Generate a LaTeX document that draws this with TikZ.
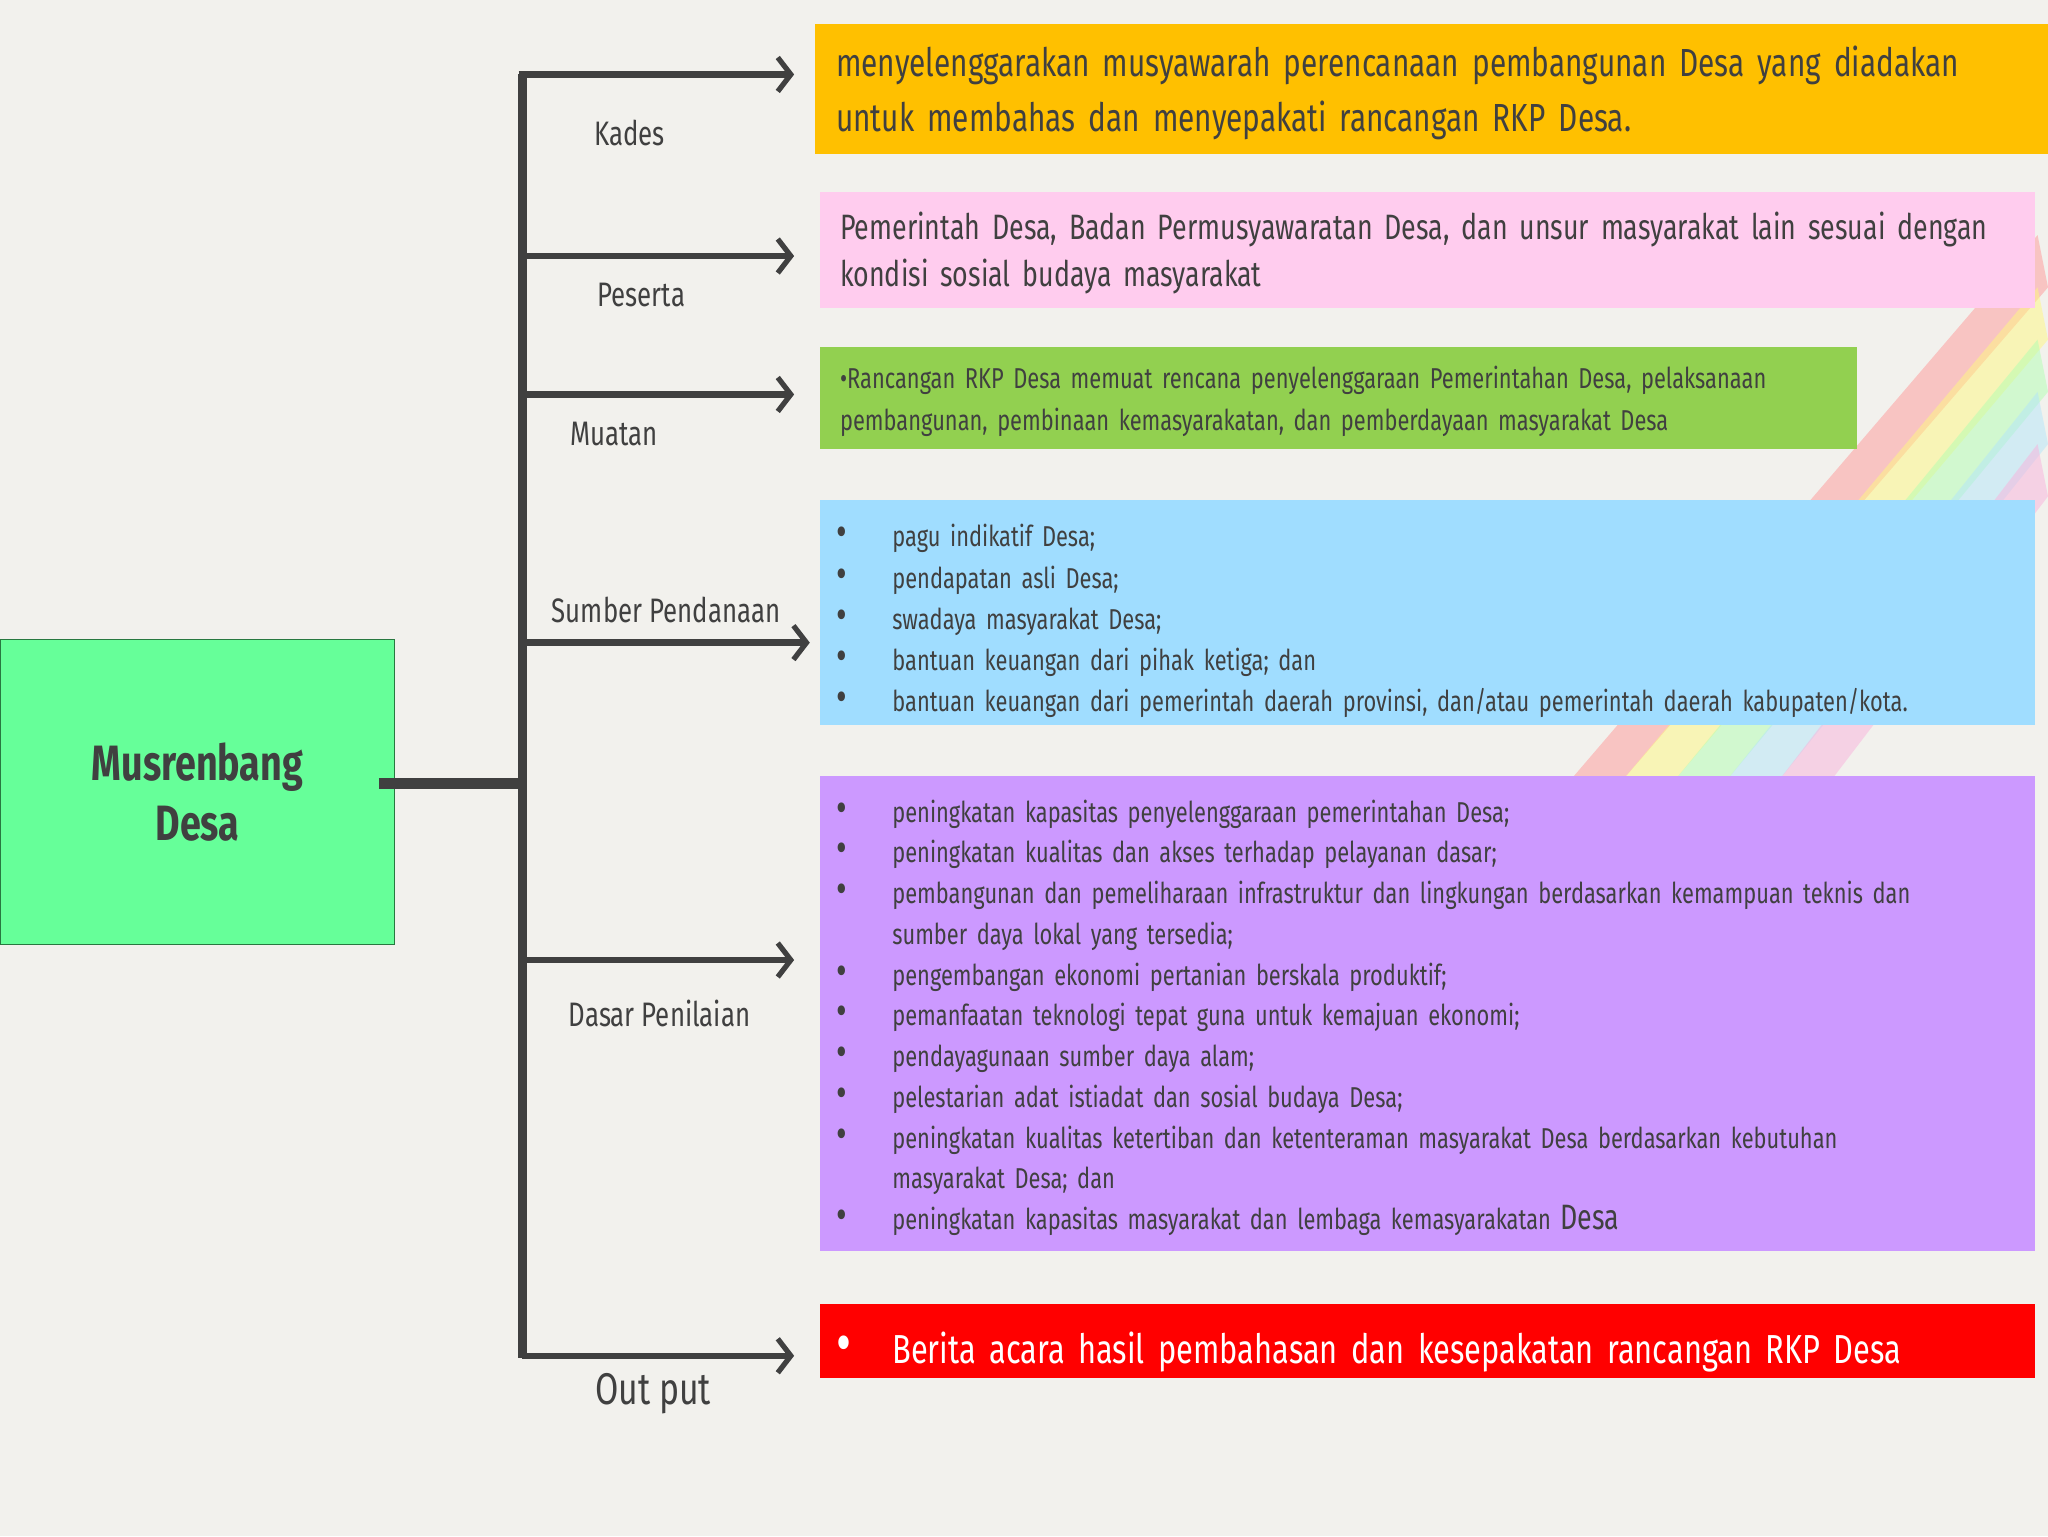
\documentclass[tikz,border=0pt]{standalone}
\usepackage{fontspec}
\setmainfont[FakeStretch=0.76]{Fira Sans}
\usetikzlibrary{arrows.meta}
\definecolor{dk}{HTML}{404040}
\definecolor{bg}{HTML}{F2F1ED}
\definecolor{corange}{HTML}{FFC000}
\definecolor{cpink}{HTML}{FFCCEE}
\definecolor{cgreen}{HTML}{92D050}
\definecolor{cblue}{HTML}{A0DDFF}
\definecolor{cpurple}{HTML}{CC99FF}
\definecolor{mgreen}{HTML}{66FF99}
\definecolor{mborder}{HTML}{287840}
\newcommand{\bi}[1]{\par\noindent\hangindent=55pt\hangafter=1\makebox[55pt][l]{\hspace{12pt}\scalebox{1.5}{\textbullet}}#1}
\tikzset{
 br/.style={draw=dk,line width=5pt,-{Straight Barb[length=10pt,width=26pt,line width=4pt]}},
 lab/.style={text=dk,font=\fontsize{26}{30}\selectfont},
 tb/.style={anchor=north west,align=left,inner sep=0pt,text=dk}
}
\begin{document}
\begin{tikzpicture}[x=1pt,y=-1pt]
\useasboundingbox (0,0) rectangle (1568,1176);
\fill[bg] (0,0) rectangle (1568,1176);
\foreach \c/\o in {red!40/0,yellow!50/40,green!30/80,cyan!30/120,magenta!30/160}{
 \fill[\c,opacity=0.5] (1200+\o,600) -- (1560,180+\o) -- (1568,220+\o) -- (1240+\o,600) -- cycle;}
% boxes
\fill[corange] (624,18) rectangle (1568,118);
\fill[cpink] (628,147) rectangle (1558,236);
\fill[cgreen] (628,266) rectangle (1422,344);
\fill[cblue] (628,383) rectangle (1558,555);
\fill[cpurple] (628,594) rectangle (1558,958);
\fill[red] (628,998) rectangle (1558,1055);
\node[draw=mborder,fill=mgreen,minimum width=302pt,minimum height=234pt,anchor=north west,align=center,text=dk,font=\bfseries\fontsize{38}{46}\selectfont] (m) at (0,489) {Musrenbang\\Desa};
% connectors
\coordinate (h0) at (290,600); \coordinate (h1) at (400,600);
\coordinate (t) at (400,57); \coordinate (b) at (400,1040);
\draw[dk,line width=8pt] (h0) -- (h1);
\draw[dk,line width=7pt] (t) -- (b);
\coordinate (e1) at (608,57); \coordinate (e2) at (608,196); \coordinate (e3) at (608,302);
\coordinate (e4) at (620,492); \coordinate (e5) at (608,735); \coordinate (e6) at (608,1038);
\draw[br] (397,57) -- (e1);
\draw[br] (400,196) -- (e2);
\draw[br] (400,302) -- (e3);
\draw[br] (400,492) -- (e4);
\draw[br] (400,735) -- (e5);
\draw[br] (400,1038) -- (e6);
\node[lab] (l1) at (482,102) {Kades};
\node[lab] (l2) at (491,226) {Peserta};
\node[lab] (l3) at (470,332) {Muatan};
\node[lab] (l4) at (510,467) {Sumber Pendanaan};
\node[lab] (l5) at (505,776) {Dasar Penilaian};
\node[lab,font=\fontsize{34}{38}\selectfont] (l6) at (500,1067) {Out put};
% texts
\node[tb,text width=910pt,font=\fontsize{30}{42}\selectfont] (t1) at (640,35) {menyelenggarakan musyawarah perencanaan pembangunan Desa yang diadakan\\untuk membahas dan menyepakati rancangan RKP Desa.};
\node[tb,text width=910pt,font=\fontsize{27}{36}\selectfont] (t2) at (643,162) {Pemerintah Desa, Badan Permusyawaratan Desa, dan unsur masyarakat lain sesuai dengan\\kondisi sosial budaya masyarakat};
\node[tb,text width=780pt,font=\fontsize{22}{32}\selectfont] (t3) at (643,280) {\textbullet Rancangan RKP Desa memuat rencana penyelenggaraan Pemerintahan Desa, pelaksanaan\\pembangunan, pembinaan kemasyarakatan, dan pemberdayaan masyarakat Desa};
\node[tb,text width=920pt,font=\fontsize{22}{31.5}\selectfont] (t4) at (628,387) {%
\bi{pagu indikatif Desa;}
\bi{pendapatan asli Desa;}
\bi{swadaya masyarakat Desa;}
\bi{bantuan keuangan dari pihak ketiga; dan}
\bi{bantuan keuangan dari pemerintah daerah provinsi, dan/atau pemerintah daerah kabupaten/kota.}};
\node[tb,text width=920pt,font=\fontsize{22}{31.2}\selectfont] (t5) at (628,598) {%
\bi{peningkatan kapasitas penyelenggaraan pemerintahan Desa;}
\bi{peningkatan kualitas dan akses terhadap pelayanan dasar;}
\bi{pembangunan dan pemeliharaan infrastruktur dan lingkungan berdasarkan kemampuan teknis dan\break sumber daya lokal yang tersedia;}
\bi{pengembangan ekonomi pertanian berskala produktif;}
\bi{pemanfaatan teknologi tepat guna untuk kemajuan ekonomi;}
\bi{pendayagunaan sumber daya alam;}
\bi{pelestarian adat istiadat dan sosial budaya Desa;}
\bi{peningkatan kualitas ketertiban dan ketenteraman masyarakat Desa berdasarkan kebutuhan\break masyarakat Desa; dan}
\bi{peningkatan kapasitas masyarakat dan lembaga kemasyarakatan {\fontsize{27}{31}\selectfont Desa}}};
\node[tb,text=white,text width=920pt,font=\fontsize{31}{40}\selectfont] (t6) at (628,1004) {\bi{Berita acara hasil pembahasan dan kesepakatan rancangan RKP Desa}};
\end{tikzpicture}
\end{document}
